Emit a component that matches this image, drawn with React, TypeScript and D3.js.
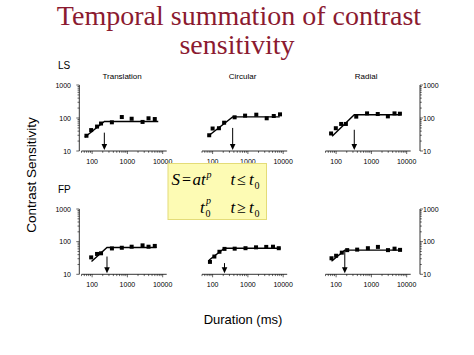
import React from "react";
import * as d3 from "d3";

// ---------- data ----------
const PANEL_NAMES = ["Translation", "Circular", "Radial", "", "", ""];
const ROW_LABELS = ["LS", "FP"];
const X_TICK_LABELS = [100, 1000, 10000];
const Y_TICK_LABELS = [10, 100, 1000];

const LS_TRANS_T = [69, 94, 138, 179, 363, 694, 1320, 2690, 3970, 5970];
const LS_TRANS_S = [29, 43, 55, 68, 74, 107, 95, 76, 98, 93];
const LS_CIRC_T = [80, 100, 151, 212, 420, 832, 1730, 3410, 5410, 8130];
const LS_CIRC_S = [30, 48, 49, 72, 105, 118, 126, 98, 115, 129];
const LS_RAD_T = [72, 98, 139, 189, 372, 753, 1514, 2930, 4520, 6430];
const LS_RAD_S = [34, 49, 66, 66, 110, 138, 132, 112, 138, 135];
const FP_TRANS_T = [94, 138, 179, 364, 694, 1320, 2690, 3970, 5970];
const FP_TRANS_S = [33, 42, 44, 62, 65, 70, 77, 70, 74];
const FP_CIRC_T = [84, 112, 156, 217, 422, 855, 1700, 3310, 5140, 7500];
const FP_CIRC_S = [24, 35, 49, 60, 61, 63, 67, 69, 70, 63];
const FP_RAD_T = [74, 100, 145, 206, 395, 795, 1530, 2950, 4530, 6490];
const FP_RAD_S = [31, 37, 46, 55, 57, 63, 69, 55, 61, 56];

const SERIES_T = [LS_TRANS_T, LS_CIRC_T, LS_RAD_T, FP_TRANS_T, FP_CIRC_T, FP_RAD_T];
const SERIES_S = [LS_TRANS_S, LS_CIRC_S, LS_RAD_S, FP_TRANS_S, FP_CIRC_S, FP_RAD_S];

// fit: rising segment from (FIT_START_T, FIT_START_S) to (FIT_T0, FIT_S0), then flat to FIT_END_T
const FIT_START_T = [62, 74, 77, 96, 80, 74];
const FIT_START_S = [26, 28, 28, 24.5, 27.5, 25];
const FIT_T0 = [222, 370, 327, 264, 217, 176];
const FIT_S0 = [78, 108, 126, 66, 63, 55];
const FIT_END_T = [7500, 8000, 6700, 6700, 8400, 6700];
const ARROW_TOP_S = [36, 50, 44, 35, 22, 52];

// ---------- layout ----------
const W = 474;
const H = 355;
const COL_LEFT = [81.5, 202, 325.5];
const X_WIDTH = 85.2;
const ROW_Y = [
  [151, 85],
  [274.3, 209],
];
const SANS = "Liberation Sans, Arial, sans-serif";
const SERIF = "Liberation Serif, Times New Roman, serif";

function minorTicks(lo: number, hi: number): number[] {
  const out: number[] = [];
  for (let e = 0; e < 6; e++) {
    for (let k = 1; k < 10; k++) {
      const v = k * Math.pow(10, e);
      if (v >= lo && v <= hi) out.push(v);
    }
  }
  return out;
}

function Panel({ i }: { i: number }) {
  const row = Math.floor(i / 3);
  const col = i % 3;
  const x = d3
    .scaleLog()
    .domain([50, 13000])
    .range([COL_LEFT[col], COL_LEFT[col] + X_WIDTH]);
  const y = d3.scaleLog().domain([10, 1000]).range(ROW_Y[row]);
  const axisY = y(10);
  const xMinor = minorTicks(50, 13000);
  const yMinor = minorTicks(10, 1000);
  const line = d3
    .line<[number, number]>()
    .x((d) => x(d[0]))
    .y((d) => y(d[1]));
  const fitPts: [number, number][] = [
    [FIT_START_T[i], FIT_START_S[i]],
    [FIT_T0[i], FIT_S0[i]],
    [FIT_END_T[i], FIT_S0[i]],
  ];
  const ax = x(FIT_T0[i]);
  const aTop = y(ARROW_TOP_S[i]);
  const aTip = axisY - 1;
  const ts = SERIES_T[i];
  const ss = SERIES_S[i];

  let yAxis: React.ReactNode = null;
  if (col === 0 || col === 2) {
    const left = col === 0;
    const axX = left ? 79.3 : 420;
    const dir = left ? -1 : 1;
    yAxis = (
      <g>
        <line x1={axX} x2={axX} y1={y(10)} y2={y(1000)} stroke="#000" strokeWidth={0.8} />
        {yMinor.map((v) => {
          const major = Y_TICK_LABELS.includes(v);
          return (
            <line
              key={v}
              x1={axX}
              x2={axX + dir * (major ? 3 : 1.8)}
              y1={y(v)}
              y2={y(v)}
              stroke="#000"
              strokeWidth={0.6}
            />
          );
        })}
        {Y_TICK_LABELS.map((v) => (
          <text
            key={v}
            x={left ? 71 : 423}
            y={y(v) + 2.5}
            textAnchor={left ? "end" : "start"}
            fontSize={7}
            fontFamily={SANS}
          >
            {v}
          </text>
        ))}
      </g>
    );
  }

  return (
    <g>
      {row === 0 && (
        <text
          x={(COL_LEFT[col] + X_WIDTH / 2) - 2}
          y={78.5}
          textAnchor="middle"
          fontSize={8}
          fontFamily={SANS}
        >
          {PANEL_NAMES[i]}
        </text>
      )}
      {/* x axis */}
      <line x1={x(50)} x2={x(13000)} y1={axisY} y2={axisY} stroke="#000" strokeWidth={0.8} />
      {xMinor.map((v) => {
        const major = X_TICK_LABELS.includes(v);
        return (
          <line
            key={v}
            x1={x(v)}
            x2={x(v)}
            y1={axisY}
            y2={axisY + (major ? 3 : 1.8)}
            stroke="#000"
            strokeWidth={0.6}
          />
        );
      })}
      {X_TICK_LABELS.map((v) => (
        <text
          key={v}
          x={x(v)}
          y={axisY + 12.5}
          textAnchor="middle"
          fontSize={7}
          fontFamily={SANS}
        >
          {v}
        </text>
      ))}
      {yAxis}
      {/* fit */}
      <path d={line(fitPts) || ""} fill="none" stroke="#000" strokeWidth={1.4} />
      {/* data */}
      {ts.map((t, k) => (
        <rect key={k} x={x(t) - 2} y={y(ss[k]) - 2} width={4} height={4} fill="#000" />
      ))}
      {/* arrow */}
      <line x1={ax} x2={ax} y1={aTop} y2={aTip - 5} stroke="#000" strokeWidth={1} />
      <path d={`M${ax - 2.8},${aTip - 6} L${ax + 2.8},${aTip - 6} L${ax},${aTip} Z`} fill="#000" />
    </g>
  );
}

export default function App() {
  const eq = { fontFamily: SERIF, fill: "#000" };
  return (
    <svg width={W} height={H} style={{ display: "block", position: "absolute", left: 0, top: 0 }}>
      <rect width={W} height={H} fill="#fff" />
      <text x={239} y={25} textAnchor="middle" fontSize={28} fontFamily={SERIF} fill="#8b1a30">
        Temporal summation of contrast
      </text>
      <text x={237} y={53.5} textAnchor="middle" fontSize={28} fontFamily={SERIF} fill="#8b1a30">
        sensitivity
      </text>
      <text x={58} y={69} fontSize={10} fontFamily={SANS}>
        {ROW_LABELS[0]}
      </text>
      <text x={58} y={192.5} fontSize={10} fontFamily={SANS}>
        {ROW_LABELS[1]}
      </text>
      {[0, 1, 2, 3, 4, 5].map((i) => (
        <Panel key={i} i={i} />
      ))}
      {/* equation box */}
      <rect x={168} y={163.5} width={98.5} height={56} fill="#fdfbb4" stroke="#e4dc78" strokeWidth={1} />
      <g {...eq}>
        <text x={171.5} y={185} fontSize={17} fontStyle="italic">S</text>
        <text x={182} y={185} fontSize={16}>=</text>
        <text x={192.5} y={185} fontSize={17} fontStyle="italic">at</text>
        <text x={206.5} y={177.5} fontSize={10} fontStyle="italic">p</text>
        <text x={230.5} y={185} fontSize={17} fontStyle="italic">t</text>
        <text x={237} y={185} fontSize={16}>≤</text>
        <text x={249} y={185} fontSize={17} fontStyle="italic">t</text>
        <text x={254.5} y={189} fontSize={10}>0</text>

        <text x={200} y={213} fontSize={17} fontStyle="italic">t</text>
        <text x={205.5} y={217} fontSize={10}>0</text>
        <text x={206} y={203.5} fontSize={10} fontStyle="italic">p</text>
        <text x={230.5} y={213} fontSize={17} fontStyle="italic">t</text>
        <text x={237} y={213} fontSize={16}>≥</text>
        <text x={249} y={213} fontSize={17} fontStyle="italic">t</text>
        <text x={254.5} y={217} fontSize={10}>0</text>
      </g>
      <text
        transform="translate(36,175) rotate(-90)"
        textAnchor="middle"
        fontSize={13.5}
        fontFamily={SANS}
      >
        Contrast Sensitivity
      </text>
      <text x={243} y={323.5} textAnchor="middle" fontSize={13} fontFamily={SANS}>
        Duration (ms)
      </text>
    </svg>
  );
}
